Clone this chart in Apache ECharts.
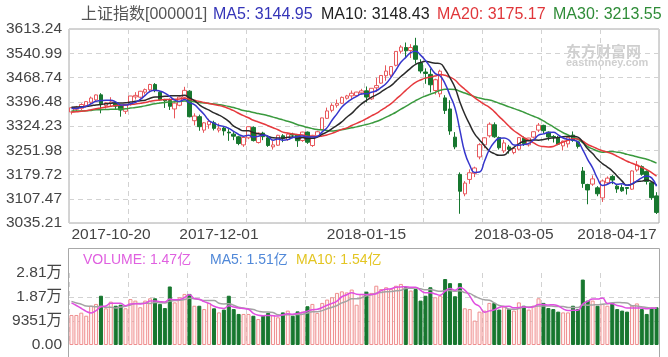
<!DOCTYPE html>
<html><head><meta charset="utf-8">
<script src="https://cdn.jsdelivr.net/npm/echarts@6/dist/echarts.min.js"></script>
<style>html,body{margin:0;padding:0;background:#fff}#c{width:668px;height:357px}</style>
</head><body><div id="c"></div>
<script>
const dates = ['2017-10-20','2017-10-23','2017-10-24','2017-10-25','2017-10-26','2017-10-27','2017-10-30','2017-10-31',
'2017-11-01','2017-11-02','2017-11-03','2017-11-06','2017-11-07','2017-11-08','2017-11-09','2017-11-10','2017-11-13','2017-11-14','2017-11-15','2017-11-16','2017-11-17','2017-11-20','2017-11-21','2017-11-22','2017-11-23','2017-11-24','2017-11-27','2017-11-28','2017-11-29','2017-11-30',
'2017-12-01','2017-12-04','2017-12-05','2017-12-06','2017-12-07','2017-12-08','2017-12-11','2017-12-12','2017-12-13','2017-12-14','2017-12-15','2017-12-18','2017-12-19','2017-12-20','2017-12-21','2017-12-22','2017-12-25','2017-12-26','2017-12-27','2017-12-28','2017-12-29',
'2018-01-02','2018-01-03','2018-01-04','2018-01-05','2018-01-08','2018-01-09','2018-01-10','2018-01-11','2018-01-12','2018-01-15','2018-01-16','2018-01-17','2018-01-18','2018-01-19','2018-01-22','2018-01-23','2018-01-24','2018-01-25','2018-01-26','2018-01-29','2018-01-30','2018-01-31',
'2018-02-01','2018-02-02','2018-02-05','2018-02-06','2018-02-07','2018-02-08','2018-02-09','2018-02-12','2018-02-13','2018-02-14','2018-02-22','2018-02-23','2018-02-26','2018-02-27','2018-02-28',
'2018-03-01','2018-03-02','2018-03-05','2018-03-06','2018-03-07','2018-03-08','2018-03-09','2018-03-12','2018-03-13','2018-03-14','2018-03-15','2018-03-16','2018-03-19','2018-03-20','2018-03-21','2018-03-22','2018-03-23','2018-03-26','2018-03-27','2018-03-28','2018-03-29','2018-03-30',
'2018-04-02','2018-04-03','2018-04-04','2018-04-09','2018-04-10','2018-04-11','2018-04-12','2018-04-13','2018-04-16','2018-04-17'];

const opens = [3366,3374,3377,3384,3395,3402,3417,3385,3392,3392,3384,3368,3388,3411,3410,3425,3432,3448,3425,3403,3400,3375,3386,3410,3428,3340,3352,3312,3328,3334,
3312,3318,3306,3300,3292,3268,3289,3320,3275,3303,3289,3262,3267,3295,3284,3300,3297,3281,3306,3266,3295,
3314,3347,3371,3386,3392,3407,3414,3415,3423,3429,3405,3438,3452,3474,3476,3505,3547,3558,3549,3563,3512,3485,
3478,3430,3420,3408,3375,3291,3180,3122,3165,3183,3232,3268,3295,3328,3290,
3250,3262,3245,3255,3288,3268,3291,3312,3326,3306,3293,3290,3265,3271,3297,3277,3190,3150,3151,3140,3110,3155,
3174,3145,3141,3141,3136,3193,3203,3189,3155,3116];

const closes = [3378.65,3380.70,3388.25,3396.90,3407.57,3416.81,3390.34,3393.34,3395.91,3383.31,3371.74,3388.17,3413.57,3415.46,3427.79,3432.67,3447.84,3429.55,3402.52,3399.25,3382.91,3392.40,3410.50,3430.46,3351.92,3353.82,3322.23,3333.66,3337.86,3317.19,
3317.62,3309.62,3303.68,3293.96,3272.05,3289.99,3322.20,3280.81,3303.04,3292.44,3266.14,3267.92,3296.54,3287.61,3300.06,3297.06,3280.46,3306.12,3275.78,3296.38,3307.17,
3348.33,3369.11,3385.71,3391.75,3409.48,3413.90,3421.83,3425.34,3428.94,3410.49,3436.59,3444.67,3474.75,3487.86,3501.36,3546.50,3559.47,3548.31,3558.13,3523.00,3488.01,3480.83,
3447.02,3462.08,3487.50,3370.65,3309.26,3262.05,3129.85,3154.13,3184.96,3199.16,3268.56,3289.02,3329.57,3292.07,3259.41,
3273.76,3254.53,3256.93,3289.64,3271.67,3288.41,3307.17,3326.70,3310.24,3291.38,3291.11,3269.88,3279.25,3290.64,3280.95,3263.48,3152.76,3133.72,3166.65,3122.29,3160.53,3168.90,
3163.18,3136.63,3131.11,3138.29,3190.32,3208.08,3180.16,3159.05,3110.65,3066.80];

const lows = [3358.5,3368,3372,3380,3390,3395,3362,3376,3383,3375,3352,3360,3385,3403,3406,3418,3425,3425,3400,3378,3372,3347,3383,3405,3350,3326,3310,3304,3316,3311,
3305,3296,3280,3282,3267,3262,3285,3278,3272,3282,3262,3254,3265,3276,3280,3288,3262,3277,3271,3262,3292,
3314,3345,3365,3379,3390,3403,3405,3411,3418,3395,3402,3426,3450,3459,3470,3502,3540,3530,3527,3510,3481,3450,
3424,3418,3410,3360,3298,3255,3062.7,3115,3152,3172,3225,3258,3290,3289,3254,
3244,3242,3240,3251,3265,3263,3287,3306,3302,3281,3275,3267,3251,3260,3277,3257,3140,3091,3146,3115,3098,3150,
3151,3125,3128,3120,3134,3188,3176,3150,3104,3062];

const highs = [3380.5,3384,3392,3398,3412,3418,3422,3396,3410,3396,3386,3390,3414,3425,3429,3436,3450,3452,3428,3405,3406,3395,3412,3441,3431,3362,3358,3336,3346,3340,
3332,3324,3315,3306,3295,3292,3323,3323,3305,3307,3293,3280,3298,3300,3304,3304,3300,3307,3308,3298,3310,
3349,3379,3392,3403,3412,3417,3430,3426,3435,3442,3437,3468,3476,3505,3502,3547,3565,3573,3568,3587,3523,3496,
3495,3465,3492,3416,3401,3306,3186,3160,3195,3203,3273,3291,3335,3335,3293,
3283,3268,3259,3290,3293,3289,3308,3333,3328,3308,3297,3295,3281,3293,3308,3280,3202,3152,3177,3145,3165,3174,
3178,3150,3150,3142,3192,3220,3207,3192,3157,3127];

// volume in 亿
const volumes = [1.17,1.17,1.26,1.14,1.53,1.60,1.92,1.43,1.69,1.53,1.57,1.43,1.79,1.73,1.47,1.73,1.82,1.82,1.60,1.44,
2.28,1.66,1.86,1.99,1.99,1.53,1.53,1.40,1.64,1.43,1.27,1.38,1.92,1.40,1.21,1.21,1.21,1.14,1.01,1.14,
1.25,1.17,1.08,1.27,1.34,1.14,1.31,1.30,1.51,1.60,1.25,1.64,1.77,1.86,2.03,2.09,2.05,2.16,1.57,1.99,
2.08,2.03,2.31,2.18,2.25,2.18,2.31,2.38,2.25,2.12,2.18,1.73,1.92,2.25,1.86,1.92,2.57,2.41,1.90,2.41,
1.43,1.40,0.95,1.30,1.34,1.64,1.64,1.38,1.50,1.40,1.34,1.66,1.53,1.38,1.53,1.82,1.64,1.44,1.40,1.30,
1.27,1.27,1.53,1.40,2.55,1.73,1.73,1.53,1.60,1.53,1.64,1.40,1.34,1.30,1.53,1.62,1.40,1.21,1.44,1.47];

// closes / volumes before the first visible day (needed for moving averages)
const prevCloses = [3379.58,3384.32,3385.39,3365.50,3365.24,3376.42,3379.49,3384.15,3371.43,3353.62,3362.86,3356.84,3366.00,3357.81,3352.53,
3341.55,3343.58,3345.27,3339.64,3348.94,3374.38,3382.99,3388.28,3386.10,3390.52,3378.47,3372.04,3381.79,3370.17];
const prevVolumes = [1.80,1.72,1.85,1.70,1.76,1.68,1.82,1.74,1.79];

const priceTickLabels = ['3035.21','3107.47','3179.72','3251.98','3324.23','3396.48','3468.74','3540.99','3613.24'];
const volTickLabels = ['0.00','9351万','1.87万','2.81万'];
const labelDates = ['2017-10-20','2017-12-01','2018-01-15','2018-03-05','2018-04-17'];

const FONT = '"Liberation Sans", Arial, "Noto Sans CJK SC", sans-serif';

function movingAvg(prev, cur, n) {
  const all = prev.concat(cur), off = prev.length, out = [];
  for (let i = 0; i < cur.length; i++) {
    let s = 0; const end = off + i;
    for (let k = end - n + 1; k <= end; k++) s += all[k];
    out.push(+(s / n).toFixed(2));
  }
  return out;
}
const ma5 = movingAvg(prevCloses, closes, 5);
const ma10 = movingAvg(prevCloses, closes, 10);
const ma20 = movingAvg(prevCloses, closes, 20);
const ma30 = movingAvg(prevCloses, closes, 30);
const vma5 = movingAvg(prevVolumes, volumes, 5);
const vma10 = movingAvg(prevVolumes, volumes, 10);

const UP = '#e8585c', DOWN = '#17772f';
const candleData = dates.map((d, i) => [opens[i], closes[i], lows[i], highs[i]]);
const volData = volumes.map((v, i) => {
  const up = closes[i] >= opens[i];
  return { value: v, itemStyle: up ? { color: '#fff6f6', borderColor: '#ef8f8f', borderWidth: 1 } : { color: DOWN, borderColor: DOWN, borderWidth: 1 } };
});

const pMin = 3035.21, pMax = 3613.24, pInt = (pMax - pMin) / 8;
const vMax = 2.8053, vInt = 0.9351;
const dash = { type: [5, 4], color: '#d2d2d2', width: 1 };

const chart = echarts.init(document.getElementById('c'), null, { renderer: 'canvas' });
chart.setOption({
  animation: false,
  textStyle: { fontFamily: FONT },
  grid: [
    { left: 69, top: 29, width: 590, height: 194, show: true, borderColor: '#a8a8a8', borderWidth: 1, backgroundColor: 'transparent' },
    { left: 69, top: 273, width: 590, height: 72, show: false }
  ],
  xAxis: [
    { type: 'category', gridIndex: 0, data: dates, boundaryGap: true,
      axisLine: { show: false }, axisTick: { show: false }, splitLine: { show: false },
      axisLabel: { interval: (idx, val) => labelDates.indexOf(val) >= 0, color: '#444', fontSize: 15.5, margin: 4,
        fontFamily: FONT, alignMinLabel: 'left', alignMaxLabel: 'right' } },
    { type: 'value', gridIndex: 0, min: 0, max: 10, interval: 1, position: 'top',
      axisLine: { show: false }, axisTick: { show: false }, axisLabel: { show: false },
      splitLine: { show: true, lineStyle: dash } },
    { type: 'category', gridIndex: 1, data: dates, boundaryGap: true,
      axisLine: { show: false }, axisTick: { show: false }, axisLabel: { show: false }, splitLine: { show: false } },
    { type: 'value', gridIndex: 1, min: 0, max: 10, interval: 1, position: 'top',
      axisLine: { show: false }, axisTick: { show: false }, axisLabel: { show: false },
      splitLine: { show: true, lineStyle: dash } }
  ],
  yAxis: [
    { type: 'value', gridIndex: 0, min: pMin, max: pMax + 1e-6, interval: pInt, scale: true,
      axisLine: { show: false }, axisTick: { show: false },
      axisLabel: { color: '#444', fontSize: 15.5, margin: 7, fontFamily: FONT,
        formatter: v => priceTickLabels[Math.round((v - pMin) / pInt)] || '' },
      splitLine: { show: true, lineStyle: dash } },
    { type: 'value', gridIndex: 1, min: 0, max: vMax + 1e-7, interval: vInt,
      axisLine: { show: false }, axisTick: { show: false },
      axisLabel: { color: '#444', fontSize: 15.5, margin: 7, fontFamily: FONT,
        formatter: v => volTickLabels[Math.round(v / vInt)] || '' },
      splitLine: { show: true, lineStyle: { type: [5, 4], width: 1, color: ['transparent', '#d2d2d2', '#d2d2d2', 'transparent'] } } }
  ],
  series: [
    { type: 'candlestick', xAxisIndex: 0, yAxisIndex: 0, data: candleData, barWidth: 4, z: 2,
      itemStyle: { color: '#ffffff', color0: DOWN, borderColor: UP, borderColor0: DOWN, borderWidth: 1 } },
    { type: 'line', xAxisIndex: 0, yAxisIndex: 0, data: ma30, showSymbol: false, smooth: true, z: 3, lineStyle: { color: '#3a9a3e', width: 1.5 } },
    { type: 'line', xAxisIndex: 0, yAxisIndex: 0, data: ma20, showSymbol: false, smooth: true, z: 3, lineStyle: { color: '#e6393d', width: 1.5 } },
    { type: 'line', xAxisIndex: 0, yAxisIndex: 0, data: ma10, showSymbol: false, smooth: true, z: 3, lineStyle: { color: '#2a2a2a', width: 1.5 } },
    { type: 'line', xAxisIndex: 0, yAxisIndex: 0, data: ma5, showSymbol: false, smooth: true, z: 3, lineStyle: { color: '#3636cc', width: 1.5 } },
    { type: 'bar', xAxisIndex: 2, yAxisIndex: 1, data: volData, barWidth: 4, z: 2 },
    { type: 'line', xAxisIndex: 2, yAxisIndex: 1, data: vma10, showSymbol: false, smooth: true, z: 3, lineStyle: { color: '#a3a3a3', width: 1.5 } },
    { type: 'line', xAxisIndex: 2, yAxisIndex: 1, data: vma5, showSymbol: false, smooth: true, z: 3, lineStyle: { color: '#e04ee0', width: 1.5 } }
  ],
  graphic: [
    { type: 'rect', shape: { x: 68.5, y: 248.5, width: 591, height: 140 }, style: { fill: 'none', stroke: '#a8a8a8', lineWidth: 1 }, z: 10, silent: true },
    { type: 'text', x: 81, y: 15, style: { text: '上证指数[000001]', fill: '#555', font: '16px ' + FONT, textVerticalAlign: 'middle' } },
    { type: 'text', x: 213, y: 15, style: { text: 'MA5: 3144.95', fill: '#3535b8', font: '16px ' + FONT, textVerticalAlign: 'middle' } },
    { type: 'text', x: 321, y: 15, style: { text: 'MA10: 3148.43', fill: '#222', font: '16px ' + FONT, textVerticalAlign: 'middle' } },
    { type: 'text', x: 437, y: 15, style: { text: 'MA20: 3175.17', fill: '#e0363a', font: '16px ' + FONT, textVerticalAlign: 'middle' } },
    { type: 'text', x: 553, y: 15, style: { text: 'MA30: 3213.55', fill: '#2f8c38', font: '16px ' + FONT, textVerticalAlign: 'middle' } },
    { type: 'text', x: 83, y: 260, style: { text: 'VOLUME: 1.47亿', fill: '#e060e0', font: '14px ' + FONT, textVerticalAlign: 'middle' } },
    { type: 'text', x: 210, y: 260, style: { text: 'MA5: 1.51亿', fill: '#5088d8', font: '14px ' + FONT, textVerticalAlign: 'middle' } },
    { type: 'text', x: 296, y: 260, style: { text: 'MA10: 1.54亿', fill: '#e3c522', font: '14px ' + FONT, textVerticalAlign: 'middle' } },
    { type: 'text', x: 566, y: 51, style: { text: '东方财富网', fill: '#cfcfcf', font: 'bold 15px "Noto Sans CJK SC", sans-serif', textVerticalAlign: 'middle' } },
    { type: 'text', x: 566, y: 63, style: { text: 'eastmoney.com', fill: '#cfcfcf', font: 'bold 11px ' + FONT, textVerticalAlign: 'middle' } }
  ]
});
</script></body></html>
